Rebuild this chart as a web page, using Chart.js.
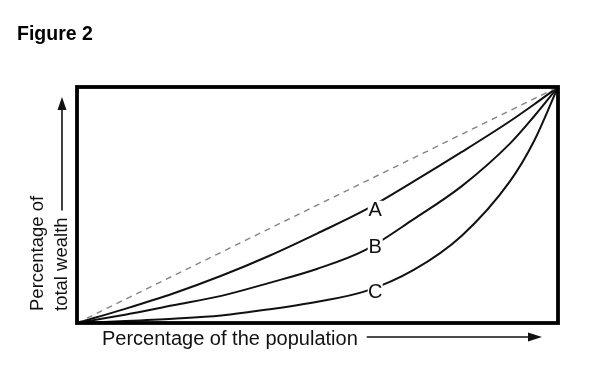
<!DOCTYPE html>
<html>
<head>
<meta charset="utf-8">
<script src="https://cdn.jsdelivr.net/npm/chart.js@4/dist/chart.umd.min.js"></script>
<style>
  html, body { margin: 0; padding: 0; background: #fff; }
  #wrap { width: 606px; height: 366px; position: relative; }
</style>
</head>
<body>
<div id="wrap"><canvas id="c" width="606" height="366"></canvas></div>
<script>
// Percentage of the population (x) and cumulative percentage of total wealth (y)
const populationPct = [0, 10, 20, 30, 40, 50, 60, 70, 80, 90, 95, 100];
const wealthA = [0, 6, 12.5, 20, 28.5, 38, 48, 60, 72.5, 85.5, 92.6, 100];
const wealthB = [0, 3.5, 7.5, 11.5, 17, 23, 31, 44, 58, 76, 87.5, 100];
const wealthC = [0, 0.8, 1.8, 3.2, 5.8, 9, 13.5, 22.5, 37, 60, 77, 100];
const equalityX = [0, 100];
const equalityY = [0, 100];
const curveNames = ['A', 'B', 'C'];
const labelX = 62;
const labelY = [48, 32.3, 13.2];

const FONT = '"Liberation Sans", Arial, Helvetica, sans-serif';
const pts = (xs, ys) => xs.map((x, i) => ({ x: x, y: ys[i] }));

const decor = {
  id: 'decor',
  beforeDraw(chart) {
    const ctx = chart.ctx;
    ctx.save();
    ctx.fillStyle = '#fff';
    ctx.fillRect(0, 0, chart.width, chart.height);
    ctx.restore();
  },
  afterDraw(chart) {
    const ctx = chart.ctx;
    const a = chart.chartArea;
    const xs = chart.scales.x, ys = chart.scales.y;
    ctx.save();
    // frame
    ctx.strokeStyle = '#000';
    ctx.lineWidth = 3.8;
    ctx.strokeRect(a.left, a.top, a.right - a.left, a.bottom - a.top);

    // curve labels
    ctx.font = '20px ' + FONT;
    ctx.textAlign = 'center';
    ctx.textBaseline = 'middle';
    curveNames.forEach((n, i) => {
      const px = xs.getPixelForValue(labelX);
      const py = ys.getPixelForValue(labelY[i]);
      ctx.fillStyle = '#fff';
      ctx.fillRect(px - 7.5, py - 9, 15, 18);
      ctx.fillStyle = '#111';
      ctx.fillText(n, px, py + 1);
    });

    // title
    ctx.fillStyle = '#000';
    ctx.textAlign = 'left';
    ctx.textBaseline = 'alphabetic';
    ctx.font = 'bold 19.5px ' + FONT;
    ctx.fillText('Figure 2', 17, 40);

    // x-axis title + arrow
    ctx.fillStyle = '#111';
    ctx.font = '20px ' + FONT;
    const xt = 'Percentage of the population';
    ctx.fillText(xt, 102, 345);
    const xEnd = 102 + ctx.measureText(xt).width + 9;
    ctx.strokeStyle = '#111';
    ctx.lineWidth = 1.6;
    ctx.beginPath();
    ctx.moveTo(xEnd, 337);
    ctx.lineTo(530, 337);
    ctx.stroke();
    ctx.beginPath();
    ctx.moveTo(542, 337);
    ctx.lineTo(528, 332.5);
    ctx.lineTo(528, 341.5);
    ctx.closePath();
    ctx.fill();

    // y-axis title + arrow (rotated)
    ctx.save();
    ctx.translate(0, 311);
    ctx.rotate(-Math.PI / 2);
    ctx.font = '18.5px ' + FONT;
    ctx.textBaseline = 'middle';
    ctx.fillText('Percentage of', 0, 38);
    ctx.fillText('total wealth', 0, 62);
    const yEnd = ctx.measureText('total wealth').width + 7;
    ctx.beginPath();
    ctx.moveTo(yEnd, 62);
    ctx.lineTo(203, 62);
    ctx.stroke();
    ctx.beginPath();
    ctx.moveTo(214, 62);
    ctx.lineTo(201, 57.5);
    ctx.lineTo(201, 66.5);
    ctx.closePath();
    ctx.fill();
    ctx.restore();

    ctx.restore();
  }
};

const curveStyle = {
  borderColor: '#111',
  borderWidth: 2,
  pointRadius: 0,
  cubicInterpolationMode: 'monotone',
  fill: false
};

new Chart(document.getElementById('c'), {
  type: 'line',
  data: {
    datasets: [
      { label: 'Equality', data: pts(equalityX, equalityY), borderColor: '#858585', borderWidth: 1.4, borderDash: [6, 5], pointRadius: 0, fill: false },
      Object.assign({ label: 'A', data: pts(populationPct, wealthA) }, curveStyle),
      Object.assign({ label: 'B', data: pts(populationPct, wealthB) }, curveStyle),
      Object.assign({ label: 'C', data: pts(populationPct, wealthC) }, curveStyle)
    ]
  },
  options: {
    responsive: false,
    animation: false,
    events: [],
    layout: { padding: { left: 77, right: 48, top: 87, bottom: 43 } },
    plugins: { legend: { display: false }, tooltip: { enabled: false } },
    scales: {
      x: { type: 'linear', min: 0, max: 100, display: false },
      y: { type: 'linear', min: 0, max: 100, display: false }
    }
  },
  plugins: [decor]
});
</script>
</body>
</html>
